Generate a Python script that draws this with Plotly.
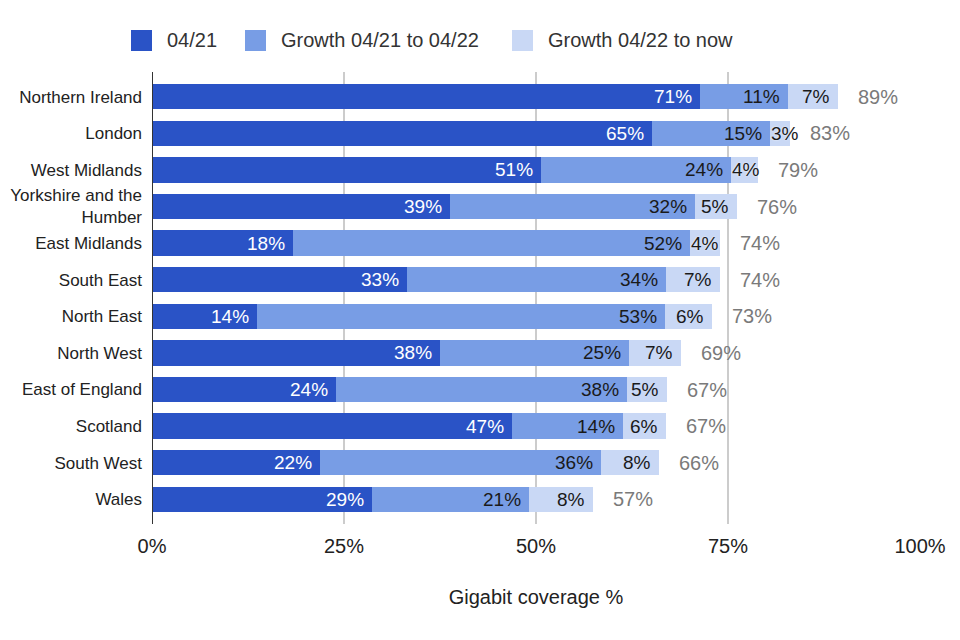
import plotly.graph_objects as go

regions = ["Northern Ireland", "London", "West Midlands", "Yorkshire and the<br>Humber",
           "East Midlands", "South East", "North East", "North West",
           "East of England", "Scotland", "South West", "Wales"]

# bar lengths (percentage points)
cov_0421 = [71.4, 65.1, 50.7, 38.8, 18.4, 33.2, 13.7, 37.5, 24.0, 46.9, 21.9, 28.6]
growth_21_22 = [11.4, 15.4, 24.7, 31.9, 51.7, 33.7, 53.1, 24.6, 37.8, 14.4, 36.6, 20.5]
growth_22_now = [6.5, 2.6, 3.5, 5.5, 3.9, 7.1, 6.1, 6.8, 5.2, 5.6, 7.5, 8.3]

# labels as printed on the chart
lab_0421 = [71, 65, 51, 39, 18, 33, 14, 38, 24, 47, 22, 29]
lab_21_22 = [11, 15, 24, 32, 52, 34, 53, 25, 38, 14, 36, 21]
lab_22_now = [7, 3, 4, 5, 4, 7, 6, 7, 5, 6, 8, 8]
totals = [89, 83, 79, 76, 74, 74, 73, 69, 67, 67, 66, 57]

series_names = ["04/21", "Growth 04/21 to 04/22", "Growth 04/22 to now"]
ticks = [0, 25, 50, 75, 100]
tick_text = ["0%", "25%", "50%", "75%", "100%"]

colors = ["#2a53c6", "#789de5", "#c9d8f5"]
label_colors = ["white", "#1a1a1a", "#1a1a1a"]
FONT = "Arial, Liberation Sans, sans-serif"

series = [cov_0421, growth_21_22, growth_22_now]
labels = [lab_0421, lab_21_22, lab_22_now]

fig = go.Figure()
for name, vals, col in zip(series_names, series, colors):
    fig.add_trace(go.Bar(y=regions, x=vals, orientation="h", name=name,
                         marker=dict(color=col, line=dict(width=0)),
                         hoverinfo="x+name", showlegend=False))

# value labels at the end of each segment (short segments: text starts at segment start)
starts = [0.0] * len(regions)
for vals, labs, lc in zip(series, labels, label_colors):
    for i, (r, v, l) in enumerate(zip(regions, vals, labs)):
        end = starts[i] + v
        if v >= 5:
            fig.add_annotation(x=end, y=r, text=f"{l}%", showarrow=False,
                               xanchor="right", xshift=-6,
                               font=dict(size=19, color=lc, family=FONT))
        else:
            fig.add_annotation(x=starts[i], y=r, text=f"{l}%", showarrow=False,
                               xanchor="left", xshift=-1,
                               font=dict(size=19, color=lc, family=FONT,
                                         shadow="0px 0px 2px white"))
        starts[i] = end

# total labels to the right of each stack
for r, e, t in zip(regions, starts, totals):
    fig.add_annotation(x=e, y=r, text=f"{t}%", showarrow=False, xanchor="left",
                       xshift=18, font=dict(size=20, color="#7a7a7a", family=FONT))

# hand-drawn legend (square swatches like the original)
plot_left, plot_w, plot_bottom, plot_h = 152, 768, 524, 452
def px(x):
    return (x - plot_left) / plot_w
def py(y):
    return (plot_bottom - y) / plot_h

swatch_x = [131, 245, 512]
for sx, name, col in zip(swatch_x, series_names, colors):
    fig.add_shape(type="rect", xref="paper", yref="paper",
                  x0=px(sx), x1=px(sx + 21), y0=py(51), y1=py(30),
                  fillcolor=col, line=dict(width=0))
    fig.add_annotation(xref="paper", yref="paper", x=px(sx + 34), y=py(40.5),
                       text=name, showarrow=False, xanchor="left", yanchor="middle",
                       font=dict(size=20, color="#333333", family=FONT))

# vertical axis line at 0
fig.add_shape(type="line", xref="x", yref="paper", x0=0, x1=0, y0=0, y1=1,
              line=dict(color="#333333", width=2))

fig.update_layout(
    barmode="stack",
    bargap=0.31,
    width=952, height=632,
    margin=dict(l=144, r=40, t=64, b=116),
    plot_bgcolor="white", paper_bgcolor="white",
    font=dict(family=FONT, color="#222222"),
    showlegend=False,
    xaxis=dict(range=[0, 100], tickvals=ticks, ticktext=tick_text,
               showgrid=True, gridcolor="#cccccc", gridwidth=1.5, zeroline=False,
               tickfont=dict(size=20, color="#222222"), ticklabelstandoff=8,
               automargin=False,
               title=dict(text="Gigabit coverage %", font=dict(size=20, color="#222222"),
                          standoff=33)),
    yaxis=dict(range=[11.675, -0.675], tickfont=dict(size=17, color="#222222"),
               showgrid=False, ticklabelstandoff=9, automargin=False),
)

fig.write_html("out.html")
